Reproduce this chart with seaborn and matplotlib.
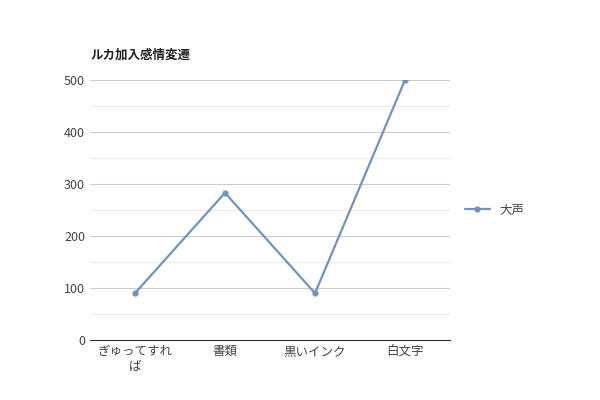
import matplotlib
matplotlib.use("Agg")
import matplotlib.pyplot as plt
import seaborn as sns
import pandas as pd

categories = ["ぎゅってすれ\nば", "書類", "黒いインク", "白文字"]
values = [90, 283, 90, 500]
series_name = "大声"
title = "ルカ加入感情変遷"

sns.set_theme(style="white")
plt.rcParams["font.family"] = ["Noto Sans CJK JP", "DejaVu Sans"]

df = pd.DataFrame({"x": range(len(categories)), "y": values})

fig = plt.figure(figsize=(6, 4), dpi=100)
ax = fig.add_axes([0.15, 0.15, 0.6, 0.65])

for v in range(0, 501, 50):
    ax.axhline(v, color="#cccccc" if v % 100 == 0 else "#ebebeb", lw=0.8, zorder=0)

sns.lineplot(data=df, x="x", y="y", ax=ax, color="#7393b9", lw=1.6,
             marker="o", markersize=4.5, markeredgewidth=0, label=series_name)

ax.set_xlim(-0.5, len(categories) - 0.5)
ax.set_ylim(0, 500)
ax.set_yticks(range(0, 501, 100))
ax.set_xticks(range(len(categories)))
ax.set_xticklabels(categories)
ax.tick_params(axis="both", labelsize=9, colors="#444444", length=0)
ax.set_xlabel("")
ax.set_ylabel("")
for s in ["top", "right", "left"]:
    ax.spines[s].set_visible(False)
ax.spines["bottom"].set_color("#333333")
ax.spines["bottom"].set_linewidth(0.8)

ax.text(0, 1.07, title, transform=ax.transAxes, fontsize=9, fontweight="bold",
        color="#222222", va="bottom")

ax.legend(loc="center left", bbox_to_anchor=(1.01, 0.5), frameon=False,
          fontsize=9, handlelength=2, labelcolor="#444444")

fig.savefig("out.png", dpi=100)
